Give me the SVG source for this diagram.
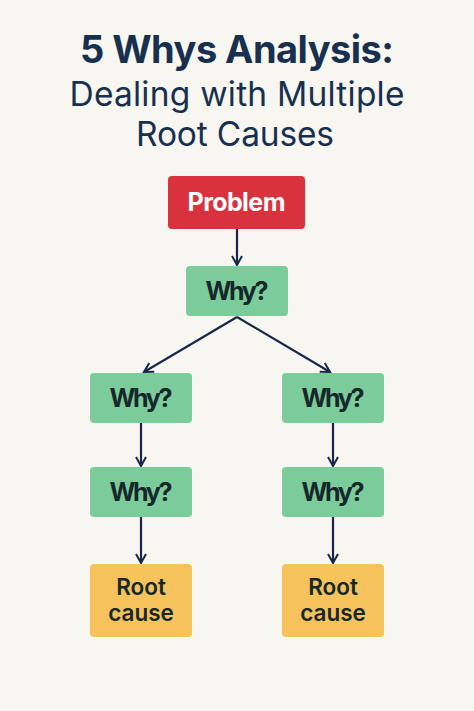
<svg xmlns="http://www.w3.org/2000/svg" width="474" height="711" viewBox="0 0 474 711">
<defs>
<style>
.title{font-family:Inter,"Liberation Sans",sans-serif;fill:#17304f;text-anchor:middle}
.lbl{font-family:Inter,"Liberation Sans",sans-serif;font-weight:700;font-size:25px;fill:#16282a;text-anchor:middle}
.rc{font-family:Inter,"Liberation Sans",sans-serif;font-weight:600;font-size:22.5px;fill:#16282a;text-anchor:middle}
.why{fill:#7ccb9b}
.root{fill:#f5c25b}
.prob{fill:#d9323f}
.conn{stroke:#18284a;stroke-width:2.2;fill:none}
</style>
<marker id="ah" viewBox="0 0 12 12" refX="10" refY="6" markerWidth="12" markerHeight="12" markerUnits="userSpaceOnUse" orient="auto">
<path d="M1,1 L10,6 L1,11" fill="none" stroke="#18284a" stroke-width="2"/>
</marker>
</defs>
<rect width="474" height="711" fill="#f8f6f1"/>
<g id="title">
<text class="title" x="237" y="63" font-size="38" font-weight="700" textLength="314">5 Whys Analysis:</text>
<text class="title" x="237" y="106" font-size="33.5" textLength="335">Dealing with Multiple</text>
<text class="title" x="235" y="146" font-size="33.5" textLength="198">Root Causes</text>
</g>
<g id="connectors">
<line class="conn" x1="237" y1="229" x2="237" y2="265" marker-end="url(#ah)"/>
<line class="conn" x1="237" y1="317" x2="144" y2="372" marker-end="url(#ah)"/>
<line class="conn" x1="237" y1="317" x2="330" y2="372" marker-end="url(#ah)"/>
<line class="conn" x1="141" y1="423" x2="141" y2="466" marker-end="url(#ah)"/>
<line class="conn" x1="333" y1="423" x2="333" y2="466" marker-end="url(#ah)"/>
<line class="conn" x1="141" y1="517" x2="141" y2="563" marker-end="url(#ah)"/>
<line class="conn" x1="333" y1="517" x2="333" y2="563" marker-end="url(#ah)"/>
</g>
<g id="problem">
<rect class="prob" x="168" y="176" width="137" height="53" rx="4"/>
<text class="lbl" x="236.5" y="211" style="fill:#ffffff" font-size="24" textLength="98">Problem</text>
</g>
<g id="why-top">
<rect class="why" x="186" y="266" width="102" height="50" rx="4"/>
<text class="lbl" x="237" y="300" textLength="63">Why?</text>
</g>
<g id="why-left-1">
<rect class="why" x="90" y="373" width="102" height="50" rx="4"/>
<text class="lbl" x="141" y="407" textLength="63">Why?</text>
</g>
<g id="why-right-1">
<rect class="why" x="282" y="373" width="102" height="50" rx="4"/>
<text class="lbl" x="333" y="407" textLength="63">Why?</text>
</g>
<g id="why-left-2">
<rect class="why" x="90" y="467" width="102" height="50" rx="4"/>
<text class="lbl" x="141" y="501" textLength="63">Why?</text>
</g>
<g id="why-right-2">
<rect class="why" x="282" y="467" width="102" height="50" rx="4"/>
<text class="lbl" x="333" y="501" textLength="63">Why?</text>
</g>
<g id="root-left">
<rect class="root" x="90" y="564" width="102" height="73" rx="4"/>
<text class="rc" x="141" y="595">Root</text>
<text class="rc" x="141" y="621">cause</text>
</g>
<g id="root-right">
<rect class="root" x="282" y="564" width="102" height="73" rx="4"/>
<text class="rc" x="333" y="595">Root</text>
<text class="rc" x="333" y="621">cause</text>
</g>
</svg>
